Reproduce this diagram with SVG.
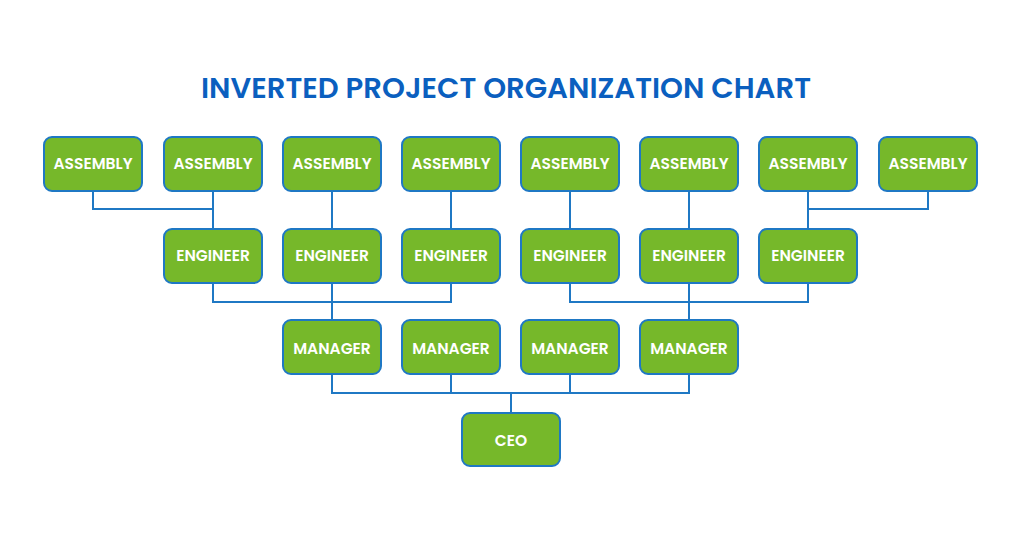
<svg xmlns="http://www.w3.org/2000/svg" width="1024" height="535" viewBox="0 0 1024 535">
<style>
.box{fill:#76b82a;stroke:#1f78c4;stroke-width:2}
.lbl{font-family:Poppins,Inter,"Liberation Sans",sans-serif;font-weight:600;font-size:15.5px;fill:#ffffff;text-anchor:middle;dominant-baseline:central}
.ttl{font-family:Poppins,Inter,"Liberation Sans",sans-serif;font-weight:600;font-size:28px;fill:#0b5fbf;text-anchor:middle}
#connectors path{fill:none;stroke:#1f78c4;stroke-width:2}
</style>
<rect width="1024" height="535" fill="#ffffff"/>
<text class="ttl" x="506" y="98" textLength="610" lengthAdjust="spacingAndGlyphs">INVERTED PROJECT ORGANIZATION CHART</text>
<g id="connectors">
<path d="M93 191V209H213M213 191V229"/>
<path d="M332 191V229M451 191V229M570 191V229M689 191V229"/>
<path d="M928 191V209H808M808 191V229"/>
<path d="M213 283V302H451V283M332 283V320"/>
<path d="M570 283V302H808V283M689 283V320"/>
<path d="M332 374V393H689V374M451 374V393M570 374V393M511 393V413"/>
</g>
<g id="a1"><rect class="box" x="44" y="137" width="98" height="54" rx="8"/><text class="lbl" x="93" y="163">ASSEMBLY</text></g>
<g id="a2"><rect class="box" x="164" y="137" width="98" height="54" rx="8"/><text class="lbl" x="213" y="163">ASSEMBLY</text></g>
<g id="a3"><rect class="box" x="283" y="137" width="98" height="54" rx="8"/><text class="lbl" x="332" y="163">ASSEMBLY</text></g>
<g id="a4"><rect class="box" x="402" y="137" width="98" height="54" rx="8"/><text class="lbl" x="451" y="163">ASSEMBLY</text></g>
<g id="a5"><rect class="box" x="521" y="137" width="98" height="54" rx="8"/><text class="lbl" x="570" y="163">ASSEMBLY</text></g>
<g id="a6"><rect class="box" x="640" y="137" width="98" height="54" rx="8"/><text class="lbl" x="689" y="163">ASSEMBLY</text></g>
<g id="a7"><rect class="box" x="759" y="137" width="98" height="54" rx="8"/><text class="lbl" x="808" y="163">ASSEMBLY</text></g>
<g id="a8"><rect class="box" x="879" y="137" width="98" height="54" rx="8"/><text class="lbl" x="928" y="163">ASSEMBLY</text></g>
<g id="e1"><rect class="box" x="164" y="229" width="98" height="54" rx="8"/><text class="lbl" x="213" y="255">ENGINEER</text></g>
<g id="e2"><rect class="box" x="283" y="229" width="98" height="54" rx="8"/><text class="lbl" x="332" y="255">ENGINEER</text></g>
<g id="e3"><rect class="box" x="402" y="229" width="98" height="54" rx="8"/><text class="lbl" x="451" y="255">ENGINEER</text></g>
<g id="e4"><rect class="box" x="521" y="229" width="98" height="54" rx="8"/><text class="lbl" x="570" y="255">ENGINEER</text></g>
<g id="e5"><rect class="box" x="640" y="229" width="98" height="54" rx="8"/><text class="lbl" x="689" y="255">ENGINEER</text></g>
<g id="e6"><rect class="box" x="759" y="229" width="98" height="54" rx="8"/><text class="lbl" x="808" y="255">ENGINEER</text></g>
<g id="m1"><rect class="box" x="283" y="320" width="98" height="54" rx="8"/><text class="lbl" x="332" y="348">MANAGER</text></g>
<g id="m2"><rect class="box" x="402" y="320" width="98" height="54" rx="8"/><text class="lbl" x="451" y="348">MANAGER</text></g>
<g id="m3"><rect class="box" x="521" y="320" width="98" height="54" rx="8"/><text class="lbl" x="570" y="348">MANAGER</text></g>
<g id="m4"><rect class="box" x="640" y="320" width="98" height="54" rx="8"/><text class="lbl" x="689" y="348">MANAGER</text></g>
<g id="ceo"><rect class="box" x="462" y="413" width="98" height="53" rx="8"/><text class="lbl" x="511" y="440">CEO</text></g>
</svg>
